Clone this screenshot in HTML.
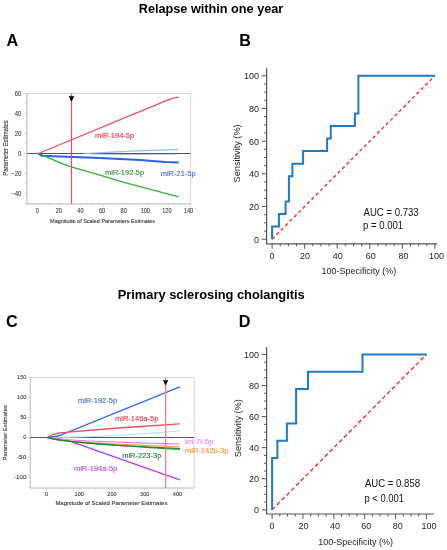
<!DOCTYPE html>
<html><head><meta charset="utf-8"><style>
html,body{margin:0;padding:0;background:#fff;}
body{width:447px;height:550px;overflow:hidden;}
svg{display:block;font-family:'Liberation Sans', sans-serif;will-change:transform;}
</style></head><body>
<svg width="447" height="550" viewBox="0 0 447 550">
<rect width="447" height="550" fill="#fff"/>
<text x="211.0" y="12.9" font-size="12.7" fill="#000" text-anchor="middle" font-weight="bold" >Relapse within one year</text>
<text x="211.25" y="298.6" font-size="12.85" fill="#000" text-anchor="middle" font-weight="bold" >Primary sclerosing cholangitis</text>
<text x="6.4" y="45.9" font-size="16.2" fill="#000" text-anchor="start" font-weight="bold" >A</text>
<text x="239.2" y="45.9" font-size="16.2" fill="#000" text-anchor="start" font-weight="bold" >B</text>
<text x="6.0" y="326.7" font-size="16.2" fill="#000" text-anchor="start" font-weight="bold" >C</text>
<text x="238.8" y="326.8" font-size="16.2" fill="#000" text-anchor="start" font-weight="bold" >D</text>
<rect x="26.9" y="93.5" width="163.7" height="110.30000000000001" fill="none" stroke="#d8d8d8" stroke-width="1"/>
<line x1="26.9" y1="93.5" x2="26.9" y2="203.8" stroke="#c8c8c8" stroke-width="1"/>
<line x1="25.9" y1="203.8" x2="190.6" y2="203.8" stroke="#c8c8c8" stroke-width="1"/>
<line x1="25.299999999999997" y1="203.4" x2="26.9" y2="203.4" stroke="#c8c8c8" stroke-width="0.8"/>
<line x1="24.299999999999997" y1="193.4" x2="26.9" y2="193.4" stroke="#c8c8c8" stroke-width="0.8"/>
<line x1="25.299999999999997" y1="183.4" x2="26.9" y2="183.4" stroke="#c8c8c8" stroke-width="0.8"/>
<line x1="24.299999999999997" y1="173.4" x2="26.9" y2="173.4" stroke="#c8c8c8" stroke-width="0.8"/>
<line x1="25.299999999999997" y1="163.4" x2="26.9" y2="163.4" stroke="#c8c8c8" stroke-width="0.8"/>
<line x1="24.299999999999997" y1="153.4" x2="26.9" y2="153.4" stroke="#c8c8c8" stroke-width="0.8"/>
<line x1="25.299999999999997" y1="143.4" x2="26.9" y2="143.4" stroke="#c8c8c8" stroke-width="0.8"/>
<line x1="24.299999999999997" y1="133.4" x2="26.9" y2="133.4" stroke="#c8c8c8" stroke-width="0.8"/>
<line x1="25.299999999999997" y1="123.4" x2="26.9" y2="123.4" stroke="#c8c8c8" stroke-width="0.8"/>
<line x1="24.299999999999997" y1="113.4" x2="26.9" y2="113.4" stroke="#c8c8c8" stroke-width="0.8"/>
<line x1="25.299999999999997" y1="103.4" x2="26.9" y2="103.4" stroke="#c8c8c8" stroke-width="0.8"/>
<line x1="24.299999999999997" y1="93.4" x2="26.9" y2="93.4" stroke="#c8c8c8" stroke-width="0.8"/>
<text x="21.3" y="195.70" font-size="6.8" fill="#3c3c3c" text-anchor="end" font-weight="normal" stroke="#3c3c3c" stroke-width="0.1" textLength="10.15" lengthAdjust="spacingAndGlyphs" >−40</text>
<text x="21.3" y="175.70" font-size="6.8" fill="#3c3c3c" text-anchor="end" font-weight="normal" stroke="#3c3c3c" stroke-width="0.1" textLength="10.15" lengthAdjust="spacingAndGlyphs" >−20</text>
<text x="21.3" y="155.70" font-size="6.8" fill="#3c3c3c" text-anchor="end" font-weight="normal" stroke="#3c3c3c" stroke-width="0.1" textLength="3.33" lengthAdjust="spacingAndGlyphs" >0</text>
<text x="21.3" y="135.70" font-size="6.8" fill="#3c3c3c" text-anchor="end" font-weight="normal" stroke="#3c3c3c" stroke-width="0.1" textLength="6.65" lengthAdjust="spacingAndGlyphs" >20</text>
<text x="21.3" y="115.70" font-size="6.8" fill="#3c3c3c" text-anchor="end" font-weight="normal" stroke="#3c3c3c" stroke-width="0.1" textLength="6.65" lengthAdjust="spacingAndGlyphs" >40</text>
<text x="21.3" y="95.70" font-size="6.8" fill="#3c3c3c" text-anchor="end" font-weight="normal" stroke="#3c3c3c" stroke-width="0.1" textLength="6.65" lengthAdjust="spacingAndGlyphs" >60</text>
<line x1="38.10" y1="203.8" x2="38.10" y2="206.4" stroke="#c8c8c8" stroke-width="0.8"/>
<line x1="48.95" y1="203.8" x2="48.95" y2="205.4" stroke="#c8c8c8" stroke-width="0.8"/>
<line x1="59.80" y1="203.8" x2="59.80" y2="206.4" stroke="#c8c8c8" stroke-width="0.8"/>
<line x1="70.65" y1="203.8" x2="70.65" y2="205.4" stroke="#c8c8c8" stroke-width="0.8"/>
<line x1="81.50" y1="203.8" x2="81.50" y2="206.4" stroke="#c8c8c8" stroke-width="0.8"/>
<line x1="92.35" y1="203.8" x2="92.35" y2="205.4" stroke="#c8c8c8" stroke-width="0.8"/>
<line x1="103.20" y1="203.8" x2="103.20" y2="206.4" stroke="#c8c8c8" stroke-width="0.8"/>
<line x1="114.05" y1="203.8" x2="114.05" y2="205.4" stroke="#c8c8c8" stroke-width="0.8"/>
<line x1="124.90" y1="203.8" x2="124.90" y2="206.4" stroke="#c8c8c8" stroke-width="0.8"/>
<line x1="135.75" y1="203.8" x2="135.75" y2="205.4" stroke="#c8c8c8" stroke-width="0.8"/>
<line x1="146.60" y1="203.8" x2="146.60" y2="206.4" stroke="#c8c8c8" stroke-width="0.8"/>
<line x1="157.45" y1="203.8" x2="157.45" y2="205.4" stroke="#c8c8c8" stroke-width="0.8"/>
<line x1="168.30" y1="203.8" x2="168.30" y2="206.4" stroke="#c8c8c8" stroke-width="0.8"/>
<line x1="179.15" y1="203.8" x2="179.15" y2="205.4" stroke="#c8c8c8" stroke-width="0.8"/>
<line x1="190.00" y1="203.8" x2="190.00" y2="206.4" stroke="#c8c8c8" stroke-width="0.8"/>
<text x="37.20" y="212.7" font-size="6.5" fill="#3c3c3c" text-anchor="middle" font-weight="normal" stroke="#3c3c3c" stroke-width="0.1" textLength="3.11" lengthAdjust="spacingAndGlyphs" >0</text>
<text x="58.82" y="212.7" font-size="6.5" fill="#3c3c3c" text-anchor="middle" font-weight="normal" stroke="#3c3c3c" stroke-width="0.1" textLength="6.22" lengthAdjust="spacingAndGlyphs" >20</text>
<text x="80.44" y="212.7" font-size="6.5" fill="#3c3c3c" text-anchor="middle" font-weight="normal" stroke="#3c3c3c" stroke-width="0.1" textLength="6.22" lengthAdjust="spacingAndGlyphs" >40</text>
<text x="102.06" y="212.7" font-size="6.5" fill="#3c3c3c" text-anchor="middle" font-weight="normal" stroke="#3c3c3c" stroke-width="0.1" textLength="6.22" lengthAdjust="spacingAndGlyphs" >60</text>
<text x="123.68" y="212.7" font-size="6.5" fill="#3c3c3c" text-anchor="middle" font-weight="normal" stroke="#3c3c3c" stroke-width="0.1" textLength="6.22" lengthAdjust="spacingAndGlyphs" >80</text>
<text x="145.30" y="212.7" font-size="6.5" fill="#3c3c3c" text-anchor="middle" font-weight="normal" stroke="#3c3c3c" stroke-width="0.1" textLength="9.32" lengthAdjust="spacingAndGlyphs" >100</text>
<text x="166.92" y="212.7" font-size="6.5" fill="#3c3c3c" text-anchor="middle" font-weight="normal" stroke="#3c3c3c" stroke-width="0.1" textLength="9.32" lengthAdjust="spacingAndGlyphs" >120</text>
<text x="188.54" y="212.7" font-size="6.5" fill="#3c3c3c" text-anchor="middle" font-weight="normal" stroke="#3c3c3c" stroke-width="0.1" textLength="9.32" lengthAdjust="spacingAndGlyphs" >140</text>
<text x="102.6" y="222.5" font-size="5.9" fill="#333" text-anchor="middle" font-weight="normal" stroke="#333" stroke-width="0.1" textLength="105" lengthAdjust="spacingAndGlyphs" >Magnitude of Scaled Parameters Estimates</text>
<text x="0" y="0" font-size="6.4" fill="#333" text-anchor="middle" stroke="#333" stroke-width="0.1" textLength="55.5" lengthAdjust="spacingAndGlyphs" transform="translate(7.8,147.9) rotate(-90)">Parameter Estimates</text>
<line x1="26.9" y1="153.5" x2="190.6" y2="153.5" stroke="#555" stroke-width="1.1"/>
<path d="M84,153.5 C100,153 115,151.8 130,151.1 L178.7,149.3" fill="none" stroke="#8cc0f0" stroke-width="1.3"/>
<polyline points="90,153.9 120,154.3 150,154.2 178.7,153.8" fill="none" stroke="#4060b0" stroke-width="0.9" opacity="0.6"/>
<polyline points="38.4,153.5 41.6,155.8 60,156.5 100,157.9 140,160.1 165,162.0 178.7,162.4" fill="none" stroke="#2b62e6" stroke-width="2"/>
<path d="M38.4,153.5 L41.2,154.4 C55,161 65,165 71.3,166.8 L100,175.1 L125,182.6 L178.7,196.8" fill="none" stroke="#33b233" stroke-width="1.3"/>
<path d="M38.4,153.5 L167,100.3 Q173,97.8 178.7,97.2" fill="none" stroke="#f24c60" stroke-width="1.3"/>
<line x1="71.5" y1="93.5" x2="71.5" y2="203.8" stroke="#f24c60" stroke-width="1.2"/>
<path d="M68.7,96.3 L74.3,96.3 L71.5,101.7 Z" fill="#000"/>
<text x="95.0" y="138.2" font-size="8" fill="#f03040" text-anchor="start" font-weight="normal" stroke="#f03040" stroke-width="0.12" textLength="39.2" lengthAdjust="spacingAndGlyphs" >miR-194-5p</text>
<text x="105.0" y="174.9" font-size="8" fill="#2a8a36" text-anchor="start" font-weight="normal" stroke="#2a8a36" stroke-width="0.12" textLength="39.2" lengthAdjust="spacingAndGlyphs" >miR-192-5p</text>
<text x="160.7" y="176.3" font-size="8" fill="#3a6ee6" text-anchor="start" font-weight="normal" stroke="#3a6ee6" stroke-width="0.12" textLength="35.0" lengthAdjust="spacingAndGlyphs" >miR-21-5p</text>
<path d="M266.6,68.2 L266.6,243.8 L437.0,243.8" fill="none" stroke="#555" stroke-width="1.2"/>
<line x1="261.6" y1="239.20" x2="266.6" y2="239.20" stroke="#555" stroke-width="1"/>
<line x1="272.10" y1="243.8" x2="272.10" y2="248.8" stroke="#555" stroke-width="1"/>
<line x1="264.1" y1="231.03" x2="266.6" y2="231.03" stroke="#555" stroke-width="1"/>
<line x1="280.24" y1="243.8" x2="280.24" y2="246.3" stroke="#555" stroke-width="1"/>
<line x1="264.1" y1="222.86" x2="266.6" y2="222.86" stroke="#555" stroke-width="1"/>
<line x1="288.38" y1="243.8" x2="288.38" y2="246.3" stroke="#555" stroke-width="1"/>
<line x1="264.1" y1="214.69" x2="266.6" y2="214.69" stroke="#555" stroke-width="1"/>
<line x1="296.52" y1="243.8" x2="296.52" y2="246.3" stroke="#555" stroke-width="1"/>
<line x1="261.6" y1="206.52" x2="266.6" y2="206.52" stroke="#555" stroke-width="1"/>
<line x1="304.66" y1="243.8" x2="304.66" y2="248.8" stroke="#555" stroke-width="1"/>
<line x1="264.1" y1="198.35" x2="266.6" y2="198.35" stroke="#555" stroke-width="1"/>
<line x1="312.80" y1="243.8" x2="312.80" y2="246.3" stroke="#555" stroke-width="1"/>
<line x1="264.1" y1="190.18" x2="266.6" y2="190.18" stroke="#555" stroke-width="1"/>
<line x1="320.94" y1="243.8" x2="320.94" y2="246.3" stroke="#555" stroke-width="1"/>
<line x1="264.1" y1="182.01" x2="266.6" y2="182.01" stroke="#555" stroke-width="1"/>
<line x1="329.08" y1="243.8" x2="329.08" y2="246.3" stroke="#555" stroke-width="1"/>
<line x1="261.6" y1="173.84" x2="266.6" y2="173.84" stroke="#555" stroke-width="1"/>
<line x1="337.22" y1="243.8" x2="337.22" y2="248.8" stroke="#555" stroke-width="1"/>
<line x1="264.1" y1="165.67" x2="266.6" y2="165.67" stroke="#555" stroke-width="1"/>
<line x1="345.36" y1="243.8" x2="345.36" y2="246.3" stroke="#555" stroke-width="1"/>
<line x1="264.1" y1="157.50" x2="266.6" y2="157.50" stroke="#555" stroke-width="1"/>
<line x1="353.50" y1="243.8" x2="353.50" y2="246.3" stroke="#555" stroke-width="1"/>
<line x1="264.1" y1="149.33" x2="266.6" y2="149.33" stroke="#555" stroke-width="1"/>
<line x1="361.64" y1="243.8" x2="361.64" y2="246.3" stroke="#555" stroke-width="1"/>
<line x1="261.6" y1="141.16" x2="266.6" y2="141.16" stroke="#555" stroke-width="1"/>
<line x1="369.78" y1="243.8" x2="369.78" y2="248.8" stroke="#555" stroke-width="1"/>
<line x1="264.1" y1="132.99" x2="266.6" y2="132.99" stroke="#555" stroke-width="1"/>
<line x1="377.92" y1="243.8" x2="377.92" y2="246.3" stroke="#555" stroke-width="1"/>
<line x1="264.1" y1="124.82" x2="266.6" y2="124.82" stroke="#555" stroke-width="1"/>
<line x1="386.06" y1="243.8" x2="386.06" y2="246.3" stroke="#555" stroke-width="1"/>
<line x1="264.1" y1="116.65" x2="266.6" y2="116.65" stroke="#555" stroke-width="1"/>
<line x1="394.20" y1="243.8" x2="394.20" y2="246.3" stroke="#555" stroke-width="1"/>
<line x1="261.6" y1="108.48" x2="266.6" y2="108.48" stroke="#555" stroke-width="1"/>
<line x1="402.34" y1="243.8" x2="402.34" y2="248.8" stroke="#555" stroke-width="1"/>
<line x1="264.1" y1="100.31" x2="266.6" y2="100.31" stroke="#555" stroke-width="1"/>
<line x1="410.48" y1="243.8" x2="410.48" y2="246.3" stroke="#555" stroke-width="1"/>
<line x1="264.1" y1="92.14" x2="266.6" y2="92.14" stroke="#555" stroke-width="1"/>
<line x1="418.62" y1="243.8" x2="418.62" y2="246.3" stroke="#555" stroke-width="1"/>
<line x1="264.1" y1="83.97" x2="266.6" y2="83.97" stroke="#555" stroke-width="1"/>
<line x1="426.76" y1="243.8" x2="426.76" y2="246.3" stroke="#555" stroke-width="1"/>
<line x1="261.6" y1="75.80" x2="266.6" y2="75.80" stroke="#555" stroke-width="1"/>
<line x1="434.90" y1="243.8" x2="434.90" y2="248.8" stroke="#555" stroke-width="1"/>
<text x="258.9" y="242.55" font-size="9.9" fill="#222" text-anchor="end" font-weight="normal" textLength="5.00" lengthAdjust="spacingAndGlyphs" >0</text>
<text x="272.10" y="259.20" font-size="9.9" fill="#222" text-anchor="middle" font-weight="normal" textLength="5.00" lengthAdjust="spacingAndGlyphs" >0</text>
<text x="258.9" y="209.87" font-size="9.9" fill="#222" text-anchor="end" font-weight="normal" textLength="10.01" lengthAdjust="spacingAndGlyphs" >20</text>
<text x="304.96" y="259.20" font-size="9.9" fill="#222" text-anchor="middle" font-weight="normal" textLength="10.01" lengthAdjust="spacingAndGlyphs" >20</text>
<text x="258.9" y="177.19" font-size="9.9" fill="#222" text-anchor="end" font-weight="normal" textLength="10.01" lengthAdjust="spacingAndGlyphs" >40</text>
<text x="337.82" y="259.20" font-size="9.9" fill="#222" text-anchor="middle" font-weight="normal" textLength="10.01" lengthAdjust="spacingAndGlyphs" >40</text>
<text x="258.9" y="144.51" font-size="9.9" fill="#222" text-anchor="end" font-weight="normal" textLength="10.01" lengthAdjust="spacingAndGlyphs" >60</text>
<text x="370.68" y="259.20" font-size="9.9" fill="#222" text-anchor="middle" font-weight="normal" textLength="10.01" lengthAdjust="spacingAndGlyphs" >60</text>
<text x="258.9" y="111.83" font-size="9.9" fill="#222" text-anchor="end" font-weight="normal" textLength="10.01" lengthAdjust="spacingAndGlyphs" >80</text>
<text x="403.54" y="259.20" font-size="9.9" fill="#222" text-anchor="middle" font-weight="normal" textLength="10.01" lengthAdjust="spacingAndGlyphs" >80</text>
<text x="258.9" y="79.15" font-size="9.9" fill="#222" text-anchor="end" font-weight="normal" textLength="15.01" lengthAdjust="spacingAndGlyphs" >100</text>
<text x="436.40" y="259.20" font-size="9.9" fill="#222" text-anchor="middle" font-weight="normal" textLength="15.01" lengthAdjust="spacingAndGlyphs" >100</text>
<text x="358.90" y="274.30" font-size="9.5" fill="#222" text-anchor="middle" font-weight="normal" textLength="74.6" lengthAdjust="spacingAndGlyphs" >100-Specificity (%)</text>
<text x="0" y="0" font-size="9.5" fill="#222" text-anchor="middle" textLength="58" lengthAdjust="spacingAndGlyphs" transform="translate(239.9,153.39999999999998) rotate(-90)">Sensitivity (%)</text>
<line x1="272.1" y1="239.2" x2="434.90" y2="75.80" stroke="#f2232b" stroke-width="1.3" stroke-dasharray="3.5 2.7"/>
<polyline points="272.1,239.2 272.1,226.6 278.9,226.6 278.9,214.0 285.6,214.0 285.6,201.5 288.9,201.5 288.9,176.3 292.4,176.3 292.4,163.7 303.1,163.7 303.1,151.1 327.1,151.1 327.1,138.5 330.8,138.5 330.8,125.9 354.9,125.9 354.9,113.4 358.4,113.4 358.4,75.8 434.9,75.8" fill="none" stroke="#1f7bc6" stroke-width="2"/>
<text x="363.6" y="215.6" font-size="10.3" fill="#111" text-anchor="start" font-weight="normal" textLength="55.0" lengthAdjust="spacingAndGlyphs" >AUC = 0.733</text>
<text x="363.0" y="228.6" font-size="10.3" fill="#111" text-anchor="start" font-weight="normal" textLength="40.1" lengthAdjust="spacingAndGlyphs" >p = 0.001</text>
<path d="M266.6,347.0 L266.6,514.0 L433.8,514.0" fill="none" stroke="#555" stroke-width="1.2"/>
<line x1="261.6" y1="509.90" x2="266.6" y2="509.90" stroke="#555" stroke-width="1"/>
<line x1="272.10" y1="514.0" x2="272.10" y2="519.0" stroke="#555" stroke-width="1"/>
<line x1="264.1" y1="502.12" x2="266.6" y2="502.12" stroke="#555" stroke-width="1"/>
<line x1="279.81" y1="514.0" x2="279.81" y2="516.5" stroke="#555" stroke-width="1"/>
<line x1="264.1" y1="494.35" x2="266.6" y2="494.35" stroke="#555" stroke-width="1"/>
<line x1="287.53" y1="514.0" x2="287.53" y2="516.5" stroke="#555" stroke-width="1"/>
<line x1="264.1" y1="486.57" x2="266.6" y2="486.57" stroke="#555" stroke-width="1"/>
<line x1="295.25" y1="514.0" x2="295.25" y2="516.5" stroke="#555" stroke-width="1"/>
<line x1="261.6" y1="478.80" x2="266.6" y2="478.80" stroke="#555" stroke-width="1"/>
<line x1="302.96" y1="514.0" x2="302.96" y2="519.0" stroke="#555" stroke-width="1"/>
<line x1="264.1" y1="471.02" x2="266.6" y2="471.02" stroke="#555" stroke-width="1"/>
<line x1="310.68" y1="514.0" x2="310.68" y2="516.5" stroke="#555" stroke-width="1"/>
<line x1="264.1" y1="463.25" x2="266.6" y2="463.25" stroke="#555" stroke-width="1"/>
<line x1="318.39" y1="514.0" x2="318.39" y2="516.5" stroke="#555" stroke-width="1"/>
<line x1="264.1" y1="455.47" x2="266.6" y2="455.47" stroke="#555" stroke-width="1"/>
<line x1="326.11" y1="514.0" x2="326.11" y2="516.5" stroke="#555" stroke-width="1"/>
<line x1="261.6" y1="447.70" x2="266.6" y2="447.70" stroke="#555" stroke-width="1"/>
<line x1="333.82" y1="514.0" x2="333.82" y2="519.0" stroke="#555" stroke-width="1"/>
<line x1="264.1" y1="439.92" x2="266.6" y2="439.92" stroke="#555" stroke-width="1"/>
<line x1="341.54" y1="514.0" x2="341.54" y2="516.5" stroke="#555" stroke-width="1"/>
<line x1="264.1" y1="432.15" x2="266.6" y2="432.15" stroke="#555" stroke-width="1"/>
<line x1="349.25" y1="514.0" x2="349.25" y2="516.5" stroke="#555" stroke-width="1"/>
<line x1="264.1" y1="424.38" x2="266.6" y2="424.38" stroke="#555" stroke-width="1"/>
<line x1="356.97" y1="514.0" x2="356.97" y2="516.5" stroke="#555" stroke-width="1"/>
<line x1="261.6" y1="416.60" x2="266.6" y2="416.60" stroke="#555" stroke-width="1"/>
<line x1="364.68" y1="514.0" x2="364.68" y2="519.0" stroke="#555" stroke-width="1"/>
<line x1="264.1" y1="408.82" x2="266.6" y2="408.82" stroke="#555" stroke-width="1"/>
<line x1="372.40" y1="514.0" x2="372.40" y2="516.5" stroke="#555" stroke-width="1"/>
<line x1="264.1" y1="401.05" x2="266.6" y2="401.05" stroke="#555" stroke-width="1"/>
<line x1="380.11" y1="514.0" x2="380.11" y2="516.5" stroke="#555" stroke-width="1"/>
<line x1="264.1" y1="393.27" x2="266.6" y2="393.27" stroke="#555" stroke-width="1"/>
<line x1="387.83" y1="514.0" x2="387.83" y2="516.5" stroke="#555" stroke-width="1"/>
<line x1="261.6" y1="385.50" x2="266.6" y2="385.50" stroke="#555" stroke-width="1"/>
<line x1="395.54" y1="514.0" x2="395.54" y2="519.0" stroke="#555" stroke-width="1"/>
<line x1="264.1" y1="377.73" x2="266.6" y2="377.73" stroke="#555" stroke-width="1"/>
<line x1="403.25" y1="514.0" x2="403.25" y2="516.5" stroke="#555" stroke-width="1"/>
<line x1="264.1" y1="369.95" x2="266.6" y2="369.95" stroke="#555" stroke-width="1"/>
<line x1="410.97" y1="514.0" x2="410.97" y2="516.5" stroke="#555" stroke-width="1"/>
<line x1="264.1" y1="362.17" x2="266.6" y2="362.17" stroke="#555" stroke-width="1"/>
<line x1="418.69" y1="514.0" x2="418.69" y2="516.5" stroke="#555" stroke-width="1"/>
<line x1="261.6" y1="354.40" x2="266.6" y2="354.40" stroke="#555" stroke-width="1"/>
<line x1="426.40" y1="514.0" x2="426.40" y2="519.0" stroke="#555" stroke-width="1"/>
<text x="258.9" y="513.25" font-size="9.9" fill="#222" text-anchor="end" font-weight="normal" textLength="5.00" lengthAdjust="spacingAndGlyphs" >0</text>
<text x="272.10" y="529.40" font-size="9.9" fill="#222" text-anchor="middle" font-weight="normal" textLength="5.00" lengthAdjust="spacingAndGlyphs" >0</text>
<text x="258.9" y="482.15" font-size="9.9" fill="#222" text-anchor="end" font-weight="normal" textLength="10.01" lengthAdjust="spacingAndGlyphs" >20</text>
<text x="303.50" y="529.40" font-size="9.9" fill="#222" text-anchor="middle" font-weight="normal" textLength="10.01" lengthAdjust="spacingAndGlyphs" >20</text>
<text x="258.9" y="451.05" font-size="9.9" fill="#222" text-anchor="end" font-weight="normal" textLength="10.01" lengthAdjust="spacingAndGlyphs" >40</text>
<text x="334.90" y="529.40" font-size="9.9" fill="#222" text-anchor="middle" font-weight="normal" textLength="10.01" lengthAdjust="spacingAndGlyphs" >40</text>
<text x="258.9" y="419.95" font-size="9.9" fill="#222" text-anchor="end" font-weight="normal" textLength="10.01" lengthAdjust="spacingAndGlyphs" >60</text>
<text x="366.30" y="529.40" font-size="9.9" fill="#222" text-anchor="middle" font-weight="normal" textLength="10.01" lengthAdjust="spacingAndGlyphs" >60</text>
<text x="258.9" y="388.85" font-size="9.9" fill="#222" text-anchor="end" font-weight="normal" textLength="10.01" lengthAdjust="spacingAndGlyphs" >80</text>
<text x="397.70" y="529.40" font-size="9.9" fill="#222" text-anchor="middle" font-weight="normal" textLength="10.01" lengthAdjust="spacingAndGlyphs" >80</text>
<text x="258.9" y="357.75" font-size="9.9" fill="#222" text-anchor="end" font-weight="normal" textLength="15.01" lengthAdjust="spacingAndGlyphs" >100</text>
<text x="429.10" y="529.40" font-size="9.9" fill="#222" text-anchor="middle" font-weight="normal" textLength="15.01" lengthAdjust="spacingAndGlyphs" >100</text>
<text x="355.60" y="545.00" font-size="9.5" fill="#222" text-anchor="middle" font-weight="normal" textLength="74.6" lengthAdjust="spacingAndGlyphs" >100-Specificity (%)</text>
<text x="0" y="0" font-size="9.5" fill="#222" text-anchor="middle" textLength="58" lengthAdjust="spacingAndGlyphs" transform="translate(241.1,428.2) rotate(-90)">Sensitivity (%)</text>
<line x1="272.1" y1="509.9" x2="426.40" y2="354.40" stroke="#f2232b" stroke-width="1.3" stroke-dasharray="4.2 2.6"/>
<polyline points="272.1,509.9 272.1,458.1 277.4,458.1 277.4,440.8 286.9,440.8 286.9,423.5 296.1,423.5 296.1,389.0 308.0,389.0 308.0,371.8 362.5,371.8 362.5,354.4 426.7,354.4" fill="none" stroke="#1f7bc6" stroke-width="2"/>
<text x="364.9" y="486.8" font-size="10.3" fill="#111" text-anchor="start" font-weight="normal" textLength="55.2" lengthAdjust="spacingAndGlyphs" >AUC = 0.858</text>
<text x="364.4" y="501.7" font-size="10.3" fill="#111" text-anchor="start" font-weight="normal" textLength="39.6" lengthAdjust="spacingAndGlyphs" >p &lt; 0.001</text>
<rect x="30.3" y="377.4" width="163.89999999999998" height="110.60000000000002" fill="none" stroke="#d8d8d8" stroke-width="1"/>
<line x1="30.3" y1="377.4" x2="30.3" y2="488.0" stroke="#c8c8c8" stroke-width="1"/>
<line x1="29.3" y1="488.0" x2="194.2" y2="488.0" stroke="#c8c8c8" stroke-width="1"/>
<line x1="28.7" y1="487.15" x2="30.3" y2="487.15" stroke="#c8c8c8" stroke-width="0.8"/>
<line x1="27.7" y1="477.20" x2="30.3" y2="477.20" stroke="#c8c8c8" stroke-width="0.8"/>
<line x1="28.7" y1="467.25" x2="30.3" y2="467.25" stroke="#c8c8c8" stroke-width="0.8"/>
<line x1="27.7" y1="457.30" x2="30.3" y2="457.30" stroke="#c8c8c8" stroke-width="0.8"/>
<line x1="28.7" y1="447.35" x2="30.3" y2="447.35" stroke="#c8c8c8" stroke-width="0.8"/>
<line x1="27.7" y1="437.40" x2="30.3" y2="437.40" stroke="#c8c8c8" stroke-width="0.8"/>
<line x1="28.7" y1="427.45" x2="30.3" y2="427.45" stroke="#c8c8c8" stroke-width="0.8"/>
<line x1="27.7" y1="417.50" x2="30.3" y2="417.50" stroke="#c8c8c8" stroke-width="0.8"/>
<line x1="28.7" y1="407.55" x2="30.3" y2="407.55" stroke="#c8c8c8" stroke-width="0.8"/>
<line x1="27.7" y1="397.60" x2="30.3" y2="397.60" stroke="#c8c8c8" stroke-width="0.8"/>
<line x1="28.7" y1="387.65" x2="30.3" y2="387.65" stroke="#c8c8c8" stroke-width="0.8"/>
<line x1="27.7" y1="377.70" x2="30.3" y2="377.70" stroke="#c8c8c8" stroke-width="0.8"/>
<text x="26.4" y="478.60" font-size="6.2" fill="#3c3c3c" text-anchor="end" font-weight="normal" stroke="#3c3c3c" stroke-width="0.1" textLength="12.57" lengthAdjust="spacingAndGlyphs" >-100</text>
<text x="26.4" y="458.70" font-size="6.2" fill="#3c3c3c" text-anchor="end" font-weight="normal" stroke="#3c3c3c" stroke-width="0.1" textLength="9.46" lengthAdjust="spacingAndGlyphs" >-50</text>
<text x="26.4" y="438.80" font-size="6.2" fill="#3c3c3c" text-anchor="end" font-weight="normal" stroke="#3c3c3c" stroke-width="0.1" textLength="3.10" lengthAdjust="spacingAndGlyphs" >0</text>
<text x="26.4" y="418.90" font-size="6.2" fill="#3c3c3c" text-anchor="end" font-weight="normal" stroke="#3c3c3c" stroke-width="0.1" textLength="6.20" lengthAdjust="spacingAndGlyphs" >50</text>
<text x="26.4" y="399.00" font-size="6.2" fill="#3c3c3c" text-anchor="end" font-weight="normal" stroke="#3c3c3c" stroke-width="0.1" textLength="9.31" lengthAdjust="spacingAndGlyphs" >100</text>
<text x="26.4" y="379.10" font-size="6.2" fill="#3c3c3c" text-anchor="end" font-weight="normal" stroke="#3c3c3c" stroke-width="0.1" textLength="9.31" lengthAdjust="spacingAndGlyphs" >150</text>
<line x1="46.50" y1="488.0" x2="46.50" y2="490.6" stroke="#c8c8c8" stroke-width="0.8"/>
<line x1="62.88" y1="488.0" x2="62.88" y2="489.6" stroke="#c8c8c8" stroke-width="0.8"/>
<line x1="79.25" y1="488.0" x2="79.25" y2="490.6" stroke="#c8c8c8" stroke-width="0.8"/>
<line x1="95.62" y1="488.0" x2="95.62" y2="489.6" stroke="#c8c8c8" stroke-width="0.8"/>
<line x1="112.00" y1="488.0" x2="112.00" y2="490.6" stroke="#c8c8c8" stroke-width="0.8"/>
<line x1="128.38" y1="488.0" x2="128.38" y2="489.6" stroke="#c8c8c8" stroke-width="0.8"/>
<line x1="144.75" y1="488.0" x2="144.75" y2="490.6" stroke="#c8c8c8" stroke-width="0.8"/>
<line x1="161.12" y1="488.0" x2="161.12" y2="489.6" stroke="#c8c8c8" stroke-width="0.8"/>
<line x1="177.50" y1="488.0" x2="177.50" y2="490.6" stroke="#c8c8c8" stroke-width="0.8"/>
<text x="46.50" y="496.2" font-size="6.2" fill="#3c3c3c" text-anchor="middle" font-weight="normal" stroke="#3c3c3c" stroke-width="0.1" textLength="3.10" lengthAdjust="spacingAndGlyphs" >0</text>
<text x="79.25" y="496.2" font-size="6.2" fill="#3c3c3c" text-anchor="middle" font-weight="normal" stroke="#3c3c3c" stroke-width="0.1" textLength="9.31" lengthAdjust="spacingAndGlyphs" >100</text>
<text x="112.00" y="496.2" font-size="6.2" fill="#3c3c3c" text-anchor="middle" font-weight="normal" stroke="#3c3c3c" stroke-width="0.1" textLength="9.31" lengthAdjust="spacingAndGlyphs" >200</text>
<text x="144.75" y="496.2" font-size="6.2" fill="#3c3c3c" text-anchor="middle" font-weight="normal" stroke="#3c3c3c" stroke-width="0.1" textLength="9.31" lengthAdjust="spacingAndGlyphs" >300</text>
<text x="177.50" y="496.2" font-size="6.2" fill="#3c3c3c" text-anchor="middle" font-weight="normal" stroke="#3c3c3c" stroke-width="0.1" textLength="9.31" lengthAdjust="spacingAndGlyphs" >400</text>
<text x="111.4" y="505.0" font-size="6.2" fill="#333" text-anchor="middle" font-weight="normal" stroke="#333" stroke-width="0.1" textLength="112" lengthAdjust="spacingAndGlyphs" >Magnitude of Scaled Parameter Estimates</text>
<text x="0" y="0" font-size="6.2" fill="#333" text-anchor="middle" stroke="#333" stroke-width="0.1" textLength="55.5" lengthAdjust="spacingAndGlyphs" transform="translate(7.0,432.8) rotate(-90)">Parameter Estimates</text>
<line x1="30.3" y1="437.5" x2="194.2" y2="437.5" stroke="#555" stroke-width="1.1"/>
<path d="M47.1,437.5 C57,437.9 63,439.3 68.3,440.6 L179.8,479.9" fill="none" stroke="#b23cf0" stroke-width="1.3"/>
<path d="M47.1,437.5 C100,437.3 140,434 179.8,431" fill="none" stroke="#a8e4f4" stroke-width="1"/>
<path d="M47.1,437.5 C60,440.5 100,442 179.8,444" fill="none" stroke="#f070e0" stroke-width="1.2"/>
<path d="M47.1,437.5 C60,441.5 100,443.5 179.8,447" fill="none" stroke="#f5a050" stroke-width="1.2"/>
<path d="M47.1,437.5 C60,441.5 100,444.5 179.8,449.5" fill="none" stroke="#30a840" stroke-width="1.2"/>
<path d="M47.1,437.5 C60,442 100,445 179.8,448.5" fill="none" stroke="#1e7a2e" stroke-width="1.2"/>
<path d="M47.1,437.5 L58.2,436 L179.8,386.8" fill="none" stroke="#2f6de6" stroke-width="1.3"/>
<path d="M47.1,437.5 C52,434 60,432.3 68.3,432.1 L118,428 L179.8,423.9" fill="none" stroke="#f24c60" stroke-width="1.3"/>
<line x1="165.6" y1="377.4" x2="165.6" y2="488.0" stroke="#f47a8a" stroke-width="1.2"/>
<path d="M162.9,380.2 L168.3,380.2 L165.6,385.4 Z" fill="#000"/>
<text x="77.9" y="403.0" font-size="8" fill="#3a6ee6" text-anchor="start" font-weight="normal" stroke="#3a6ee6" stroke-width="0.12" textLength="39.2" lengthAdjust="spacingAndGlyphs" >miR-192-5p</text>
<text x="115.0" y="421.2" font-size="8" fill="#f03040" text-anchor="start" font-weight="normal" stroke="#f03040" stroke-width="0.12" textLength="43.4" lengthAdjust="spacingAndGlyphs" >miR-146a-5p</text>
<text x="73.9" y="471.0" font-size="8" fill="#b84cf2" text-anchor="start" font-weight="normal" stroke="#b84cf2" stroke-width="0.12" textLength="43.4" lengthAdjust="spacingAndGlyphs" >miR-194a-5p</text>
<text x="122.2" y="457.6" font-size="8" fill="#1e7a2e" text-anchor="start" font-weight="normal" stroke="#1e7a2e" stroke-width="0.12" textLength="39.2" lengthAdjust="spacingAndGlyphs" >miR-223-3p</text>
<text x="185.0" y="444.3" font-size="8" fill="#f27af0" text-anchor="start" font-weight="normal" stroke="#f27af0" stroke-width="0.12" textLength="28.5" lengthAdjust="spacingAndGlyphs" >let-7i-5p</text>
<text x="185.0" y="453.4" font-size="8" fill="#f39236" text-anchor="start" font-weight="normal" stroke="#f39236" stroke-width="0.12" textLength="43.4" lengthAdjust="spacingAndGlyphs" >miR-142b-3p</text>
</svg>
</body></html>
